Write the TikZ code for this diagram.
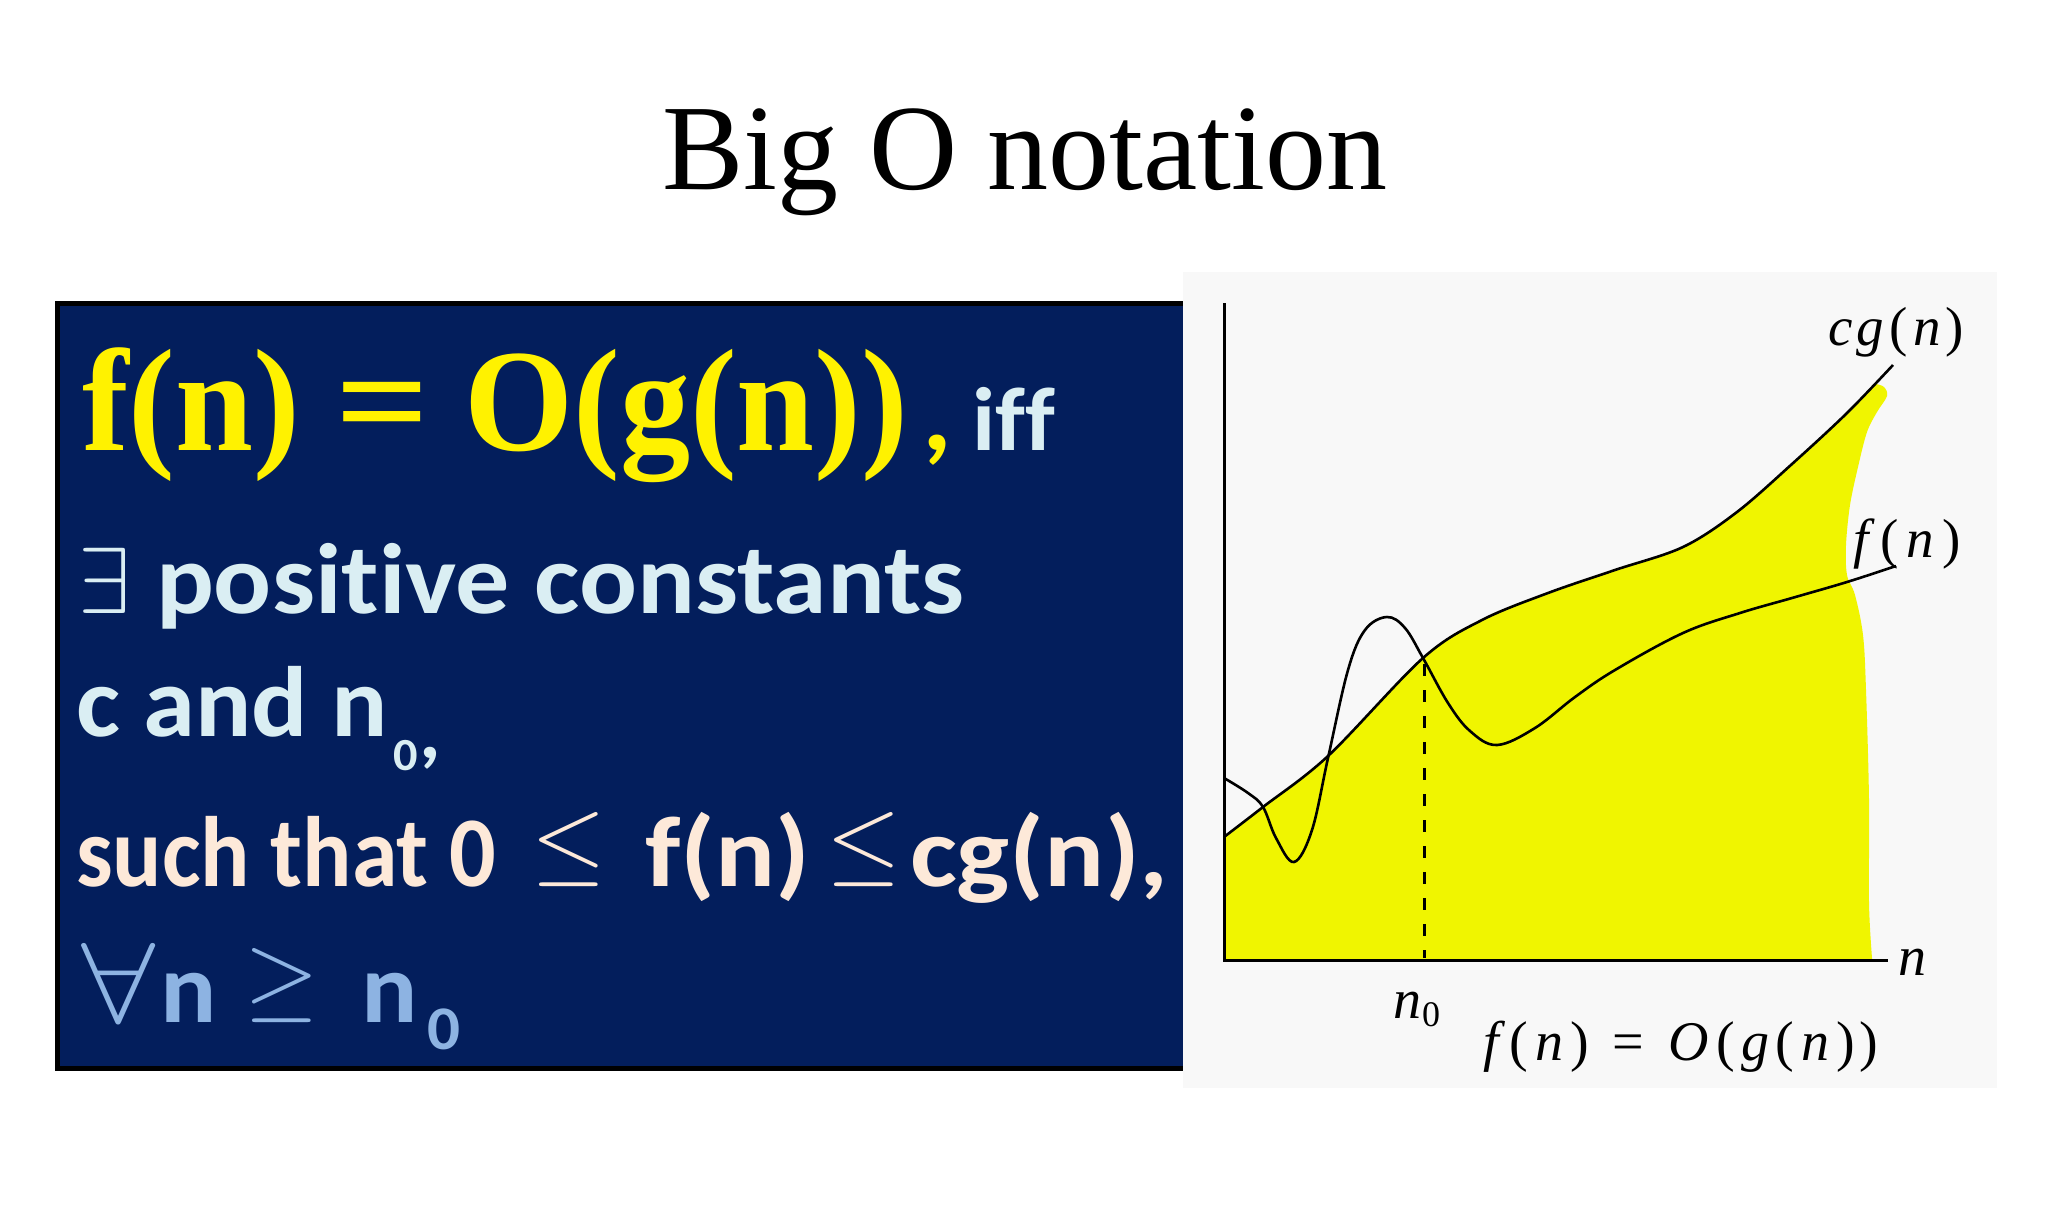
\RequirePackage{fix-cm}
\documentclass[tikz,border=0pt]{standalone}
\usepackage{fontspec}
\usepackage{graphicx}
\setmainfont{Liberation Serif}
\newfontfamily\serifbf{Liberation Serif}[FakeStretch=0.96]
\newfontfamily\calfont{Carlito}[FakeStretch=1.05,Ligatures=NoCommon]
\newfontfamily\calwide{Carlito}[FakeStretch=1.08,Ligatures=NoCommon]
\newfontfamily\calnarrow{Carlito}[FakeStretch=0.92,Ligatures=NoCommon]
\newfontfamily\calwider{Carlito}[FakeStretch=1.12,Ligatures=NoCommon]
\newcommand{\fsz}[1]{\fontsize{#1}{#1}\selectfont}
\definecolor{navy}{RGB}{3,30,92}
\definecolor{lblue}{HTML}{DAEEF3}
\definecolor{peach}{HTML}{FDE9D9}
\definecolor{sblue}{HTML}{8DB3E2}
\definecolor{gyellow}{HTML}{F0F500}
\definecolor{gbg}{HTML}{F8F8F8}
\begin{document}
\begin{tikzpicture}[x=1pt,y=-1pt,
  txt/.style={inner sep=0pt, outer sep=0pt, anchor=base west},
  curve/.style={line width=2.6pt, black},
  axis/.style={line width=3pt, black}]
\useasboundingbox (0,0) rectangle (2048,1229);
\fill[white] (0,0) rectangle (2048,1229);
% title
\node[inner sep=0pt, anchor=base] (title) at (1025,189) {\fsz{122}Big O notation};
% blue box
\fill[navy] (55,301) rectangle (1184,1071);
\draw[line width=5pt, black] (1184,303.5) -- (57.5,303.5) -- (57.5,1068.5) -- (1184,1068.5);
% line 1
\node[txt] (l1) at (82,450) {\serifbf\bfseries\fsz{146}\color{yellow}f(n) \scalebox{1.18}[1]{=} O(g(n))};
\node[txt] (l1c) at (922,450) {\calfont\bfseries\fsz{110}\color{yellow},};
\node[txt] (l1i) at (972,450) {\calfont\bfseries\fsz{90}\color{lblue}iff};
% line 2
\node[txt] (ex) at (78,613) {\fsz{94}\color{lblue}$\exists$};
\node[txt] (l2) at (156,613) {\calwide\bfseries\fsz{100}\color{lblue}positive constants};
% line 3
\node[txt] (l3) at (76,736) {\calfont\bfseries\fsz{100}\color{lblue}c and n\kern5pt\raisebox{-34pt}{\fsz{46}0}\kern2pt\raisebox{-22pt}{\fsz{80},}};
% line 4
\node[txt] (l4a) at (76,886) {\calnarrow\bfseries\fsz{100}\color{peach}such that 0};
\node[txt] (le1) at (531,886) {\fsz{96}\color{peach}\raisebox{13pt}{$\leq$}};
\node[txt] (l4b) at (645,886) {\calwider\bfseries\fsz{100}\color{peach}f(n)};
\node[txt] (le2) at (826,886) {\fsz{96}\color{peach}\raisebox{13pt}{$\leq$}};
\node[txt] (l4c) at (910,886) {\calwider\bfseries\fsz{100}\color{peach}cg(n),};
% line 5
\node[txt] (fa) at (81,1022) {\fsz{114}\color{sblue}\scalebox{1.17}[1]{$\forall$}};
\node[txt] (l5a) at (160,1022) {\calfont\bfseries\fsz{100}\color{sblue}n};
\node[txt] (ge) at (244,1022) {\fsz{96}\color{sblue}\raisebox{13pt}{$\geq$}};
\node[txt] (l5b) at (361,1022) {\calfont\bfseries\fsz{100}\color{sblue}n\kern10pt\raisebox{-27pt}{\fsz{62}0}};
% graph background
\fill[gbg] (1183,272) rectangle (1997,1088);
% yellow region
\fill[gyellow] (1224,960) -- plot[smooth,tension=0.55] coordinates {(1224,837) (1263,807) (1328,756) (1423,658) (1482,620) (1548,593) (1615,570) (1683,547) (1737,512) (1792,464) (1847,413) (1876,384)}
  -- plot[smooth,tension=0.55] coordinates {(1876,384) (1884,387) (1887,396) (1877,412) (1867,432) (1858,467) (1850,505) (1846,545) (1847,575) (1855,595) (1863,635) (1866,690) (1869,800) (1869,903) (1872,958)}
  -- (1872,960) -- cycle;
% axes
\draw[axis] (1224,303) -- (1224,960) -- (1888,960);
% dashed n0 line
\draw[line width=3pt, dash pattern=on 12pt off 14pt] (1424,664) -- (1424,958);
% cg(n)
\draw[curve] plot[smooth,tension=0.55] coordinates {(1224,837) (1263,807) (1328,756) (1423,658) (1482,620) (1548,593) (1615,570) (1683,547) (1737,512) (1792,464) (1847,413) (1893,365)};
% f(n)
\draw[curve] plot[smooth,tension=0.6] coordinates {(1224,778) (1248,793) (1263,807) (1276,838) (1294,862) (1312,830) (1328,758) (1348,670) (1365,630) (1387,617) (1405,628) (1423,658) (1448,703) (1470,731) (1497,745) (1535,728) (1575,697) (1615,670) (1683,633) (1740,613) (1792,598) (1847,582) (1896,566)};
% graph labels
\node[txt] (cgl) at (1828,345) {\fsz{55}\itshape c\kern4pt g\kern6pt\upshape(\kern5pt\itshape n\kern5pt\upshape)};
\node[txt] (fl) at (1853,557) {\fsz{55}\itshape f\kern12pt\upshape(\kern8pt\itshape n\kern8pt\upshape)};
\node[txt] (nl) at (1898,975) {\fsz{56}\itshape n};
\node[txt] (n0) at (1393,1018) {\fsz{56}\itshape n\kern1pt\upshape\raisebox{-8pt}{\fsz{36}0}};
\node[txt] (fo) at (1483,1060) {\fsz{56}\itshape f\kern11pt\upshape(\kern7pt\itshape n\kern7pt\upshape)\kern24pt=\kern24pt\itshape O\kern8pt\upshape(\kern6pt\itshape g\kern6pt\upshape(\kern7pt\itshape n\kern7pt\upshape)\kern5pt)};
\end{tikzpicture}
\end{document}
